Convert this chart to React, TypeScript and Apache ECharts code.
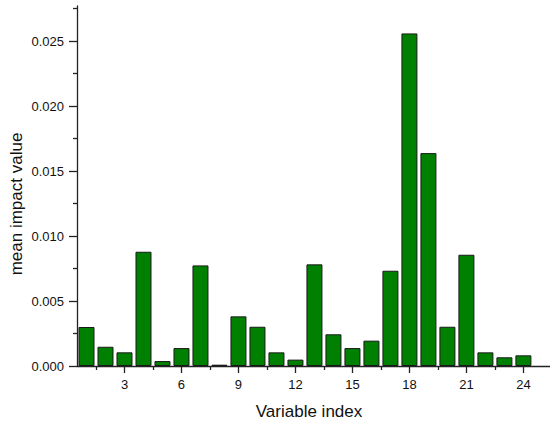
import React, { useEffect, useRef } from "react";
import * as echarts from "echarts";

const indices = [1, 2, 3, 4, 5, 6, 7, 8, 9, 10, 11, 12, 13, 14, 15, 16, 17, 18, 19, 20, 21, 22, 23, 24];
const impactValues = [
  0.0030, 0.00148, 0.00105, 0.00879, 0.00038, 0.00138, 0.00774, 0.0001,
  0.00382, 0.00302, 0.00105, 0.00049, 0.00782, 0.00244, 0.00138, 0.00195,
  0.00733, 0.02559, 0.01638, 0.00302, 0.00856, 0.00105, 0.00067, 0.00082,
];
const xMajorTicks = [3, 6, 9, 12, 15, 18, 21, 24];
const xMinorTicks = [1.5, 4.5, 7.5, 10.5, 13.5, 16.5, 19.5, 22.5];
const yMajorTicks = [0, 0.005, 0.01, 0.015, 0.02, 0.025];
const yMinorTicks = [0.0025, 0.0075, 0.0125, 0.0175, 0.0225, 0.0275];
const xTitle = "Variable index";
const yTitle = "mean impact value";

const FONT = "'Liberation Sans', Arial, sans-serif";
const AXIS_COLOR = "#222";

export default function App() {
  const ref = useRef<HTMLDivElement>(null);
  useEffect(() => {
    document.body.style.margin = "0";
    const chart = echarts.init(ref.current!, null, { renderer: "svg" });
    const xCommon = { type: "value", min: 0.5, max: 25.4, splitLine: { show: false }, position: "bottom" };
    const yCommon = { type: "value", min: 0, max: 0.0277, splitLine: { show: false }, position: "left" };
    chart.setOption({
      animation: false,
      backgroundColor: "#fff",
      textStyle: { fontFamily: FONT },
      grid: { left: 77, top: 6, width: 473, height: 360, containLabel: false },
      xAxis: [
        {
          ...xCommon,
          axisLine: { show: true, onZero: false, lineStyle: { color: AXIS_COLOR, width: 1.3 } },
          axisTick: { show: true, customValues: xMajorTicks, length: 7, lineStyle: { color: AXIS_COLOR, width: 1.3 } },
          axisLabel: {
            show: true,
            customValues: xMajorTicks,
            margin: 12,
            fontSize: 13,
            color: "#111",
            fontFamily: FONT,
          },
        },
        {
          ...xCommon,
          axisLine: { show: false, onZero: false },
          axisTick: { show: true, customValues: xMinorTicks, length: 4, lineStyle: { color: AXIS_COLOR, width: 1.3 } },
          axisLabel: { show: false },
        },
      ],
      yAxis: [
        {
          ...yCommon,
          axisLine: { show: true, onZero: false, lineStyle: { color: AXIS_COLOR, width: 1.3 } },
          axisTick: { show: true, customValues: yMajorTicks, length: 8, lineStyle: { color: AXIS_COLOR, width: 1.3 } },
          axisLabel: {
            show: true,
            customValues: yMajorTicks,
            margin: 13,
            fontSize: 13,
            color: "#111",
            fontFamily: FONT,
            formatter: (v: number) => v.toFixed(3),
          },
        },
        {
          ...yCommon,
          axisLine: { show: false, onZero: false },
          axisTick: { show: true, customValues: yMinorTicks, length: 4, lineStyle: { color: AXIS_COLOR, width: 1.3 } },
          axisLabel: { show: false },
        },
      ],
      graphic: [
        {
          type: "text",
          x: 309,
          y: 411,
          style: {
            text: xTitle,
            fontSize: 17,
            fontFamily: FONT,
            fill: "#111",
            textAlign: "center",
            textVerticalAlign: "middle",
          },
        },
        {
          type: "text",
          x: 16,
          y: 204,
          rotation: Math.PI / 2,
          style: {
            text: yTitle,
            fontSize: 17,
            fontFamily: FONT,
            fill: "#111",
            textAlign: "center",
            textVerticalAlign: "middle",
          },
        },
      ],
      series: [
        {
          type: "bar",
          xAxisIndex: 0,
          yAxisIndex: 0,
          barWidth: 16,
          data: indices.map((x, i) => [x, impactValues[i]]),
          itemStyle: { color: "#008000", borderColor: "#1a1a1a", borderWidth: 1 },
        },
      ],
    });
    return () => chart.dispose();
  }, []);
  return <div ref={ref} style={{ width: 550, height: 429 }} />;
}
